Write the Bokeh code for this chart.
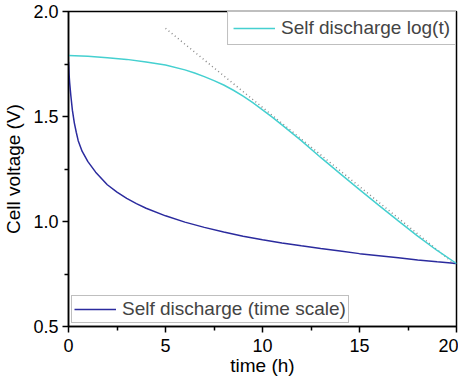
from bokeh.plotting import figure
from bokeh.models import Legend, LegendItem, FixedTicker, NumeralTickFormatter, Range1d
from bokeh.embed import file_html
from bokeh.resources import INLINE

# Self discharge (time scale)
t_scale = [0, 0.03, 0.06, 0.12, 0.2, 0.3, 0.4, 0.5, 0.7, 1.0, 1.4, 2.0, 2.5, 3.0, 3.5, 4.0,
           5.0, 6.0, 7.0, 8.0, 9.0, 10.0, 11.0, 12.0, 13.0, 14.0, 15.0, 16.0, 17.0, 18.0,
           19.0, 20.0]
v_scale = [1.76, 1.70, 1.66, 1.60, 1.53, 1.47, 1.425, 1.385, 1.335, 1.285, 1.235, 1.175,
           1.14, 1.11, 1.085, 1.063, 1.027, 0.997, 0.972, 0.95, 0.93, 0.913, 0.898, 0.884,
           0.871, 0.859, 0.847, 0.837, 0.827, 0.817, 0.808, 0.80]

# Self discharge log(t)
t_log = [0, 1, 2, 3, 4, 5, 6, 6.5, 7, 7.5, 8, 8.5, 9, 9.5, 10, 10.5, 11, 12, 13, 14, 15,
         16, 17, 18, 19, 20]
v_log = [1.79, 1.787, 1.78, 1.772, 1.76, 1.745, 1.722, 1.707, 1.69, 1.671, 1.65, 1.625,
         1.597, 1.566, 1.532, 1.497, 1.46, 1.385, 1.305, 1.228, 1.152, 1.077, 1.003, 0.93,
         0.862, 0.80]

# dotted linear guide
t_fit = [5, 20]
v_fit = [1.92, 0.79]

x_ticks = [0, 5, 10, 15, 20]
y_ticks = [0.5, 1.0, 1.5, 2.0]
x_minor = [2.5, 7.5, 12.5, 17.5]
y_minor = [0.75, 1.25, 1.75]

FONT = "Liberation Sans"

p = figure(width=458, height=378, output_backend="svg", toolbar_location=None,
           x_range=Range1d(0, 20), y_range=Range1d(0.5, 2.0),
           min_border_left=61, min_border_right=2, min_border_top=11, min_border_bottom=40)

p.xgrid.visible = False
p.ygrid.visible = False
p.outline_line_color = "black"
p.outline_line_width = 1.5
p.background_fill_color = "white"
p.border_fill_color = "white"

r_fit = p.line(t_fit, v_fit, line_color="#8a8a8a", line_width=1.5, line_dash="1 3")
r_scale = p.line(t_scale, v_scale, line_color="#2b2b9e", line_width=1.5)
r_log = p.line(t_log, v_log, line_color="#45d0d0", line_width=1.5)

for ax, ticks, minor in ((p.xaxis[0], x_ticks, x_minor), (p.yaxis[0], y_ticks, y_minor)):
    ax.ticker = FixedTicker(ticks=ticks, minor_ticks=minor)
    ax.axis_line_color = "black"
    ax.axis_line_width = 1.5
    ax.major_tick_line_width = 1.5
    ax.minor_tick_line_width = 1.5
    ax.major_tick_out = 6
    ax.major_tick_in = 0
    ax.minor_tick_out = 4
    ax.minor_tick_in = 0
    ax.major_label_text_font = FONT
    ax.major_label_text_font_size = "18px"
    ax.major_label_text_color = "black"
    ax.axis_label_text_font = FONT
    ax.axis_label_text_font_size = "19px"
    ax.axis_label_text_font_style = "normal"
    ax.axis_label_text_color = "black"

p.xaxis[0].major_label_standoff = 6
p.xaxis[0].axis_label_standoff = 0
p.yaxis[0].major_label_standoff = 4
p.yaxis[0].axis_label_standoff = 6

p.yaxis[0].formatter = NumeralTickFormatter(format="0.0")
p.xaxis[0].formatter = NumeralTickFormatter(format="0")
p.xaxis.axis_label = "time (h)"
p.yaxis.axis_label = "Cell voltage (V)"

def make_legend(item, loc):
    lg = Legend(items=[item], location=loc, margin=0, padding=4, spacing=0,
                glyph_width=42, glyph_height=18, label_height=18, label_standoff=6,
                label_text_font=FONT, label_text_font_size="19px",
                border_line_color="#808080", border_line_width=1.2,
                background_fill_color="white", background_fill_alpha=1.0)
    return lg

leg_top = make_legend(LegendItem(label="Self discharge log(t)", renderers=[r_log]), "top_right")
leg_bot = make_legend(LegendItem(label="Self discharge (time scale)", renderers=[r_scale]), "bottom_left")
leg_top.padding = 5
leg_bot.margin = 3
leg_bot.padding = 2
p.add_layout(leg_top)
p.add_layout(leg_bot)

open("out.html", "w").write(file_html(p, INLINE))
